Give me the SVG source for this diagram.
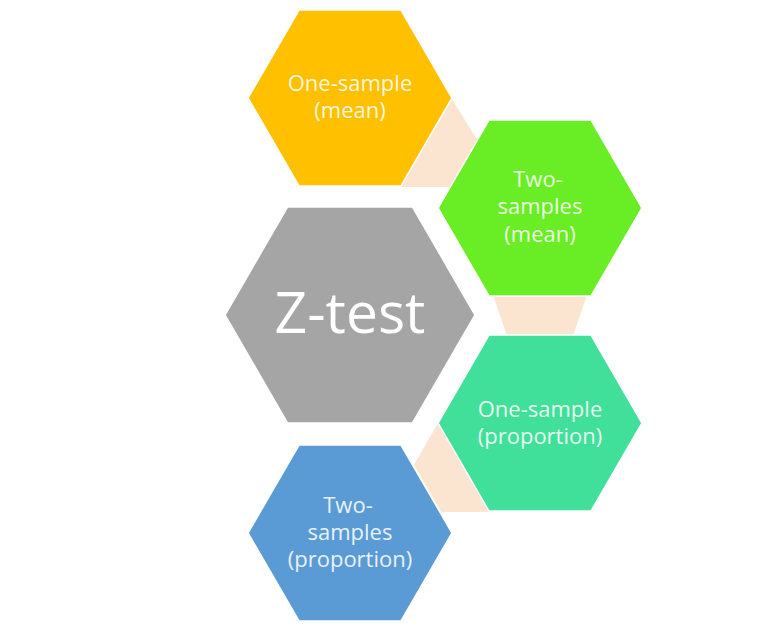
<svg xmlns="http://www.w3.org/2000/svg" width="768" height="632" viewBox="0 0 768 632">
<style>
.hex{stroke:#ffffff;stroke-width:1.5}
.link{fill:#fbe5d1;stroke:none}
.lbl{font-family:"Open Sans","Noto Sans","Liberation Sans",sans-serif;font-size:22px;fill:#ffffff;fill-opacity:0.88;text-anchor:middle}
.big{font-family:"Open Sans","Noto Sans","Liberation Sans",sans-serif;font-size:57px;fill:#ffffff;text-anchor:middle}
</style>
<rect width="768" height="632" fill="#ffffff"/>
<g id="connectors">
<polygon class="link" points="450,96 478,141 452,187 400,187"/>
<polygon class="link" points="492,292 588,292 573,336 507,336"/>
<polygon class="link" points="438,423 414,465 441,512 489,512"/>
</g>
<g id="node-yellow">
<polygon class="hex" fill="#ffc000" points="299,10 401,10 452,98 401,186 299,186 248,98"/>
<text class="lbl" x="350" y="91">One-sample</text>
<text class="lbl" x="350" y="118">(mean)</text>
</g>
<g id="node-green">
<polygon class="hex" fill="#69ee25" points="489,120 591,120 642,208 591,296 489,296 438,208"/>
<text class="lbl" x="538" y="187">Two-</text>
<text class="lbl" x="540" y="214">samples</text>
<text class="lbl" x="540" y="242">(mean)</text>
</g>
<g id="node-ztest">
<polygon class="hex" fill="#a5a5a5" points="287.5,207 412.5,207 475,315 412.5,423 287.5,423 225,315"/>
<text class="big" x="350" y="333">Z-test</text>
</g>
<g id="node-teal">
<polygon class="hex" fill="#41e09a" points="489,335 591,335 642,423 591,511 489,511 438,423"/>
<text class="lbl" x="540" y="417">One-sample</text>
<text class="lbl" x="540" y="444">(proportion)</text>
</g>
<g id="node-blue">
<polygon class="hex" fill="#5b9bd5" points="299,445 401,445 452,533 401,621 299,621 248,533"/>
<text class="lbl" x="348" y="513">Two-</text>
<text class="lbl" x="350" y="540">samples</text>
<text class="lbl" x="350" y="567">(proportion)</text>
</g>
</svg>
